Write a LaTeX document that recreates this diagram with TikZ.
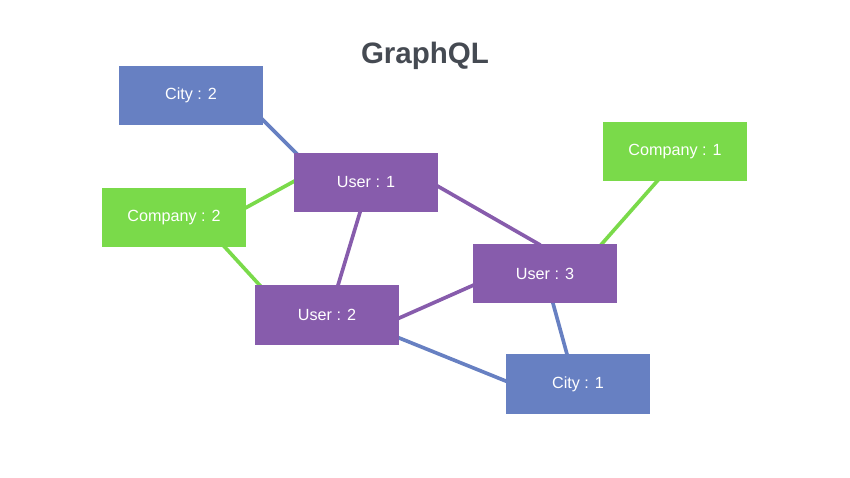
\documentclass[tikz,border=0pt]{standalone}
\usepackage{fontspec}
\setmainfont{Liberation Sans}
\usepackage{tikz}
\usetikzlibrary{calc,backgrounds}
\usepackage{xcolor}
\definecolor{cityblue}{RGB}{103,128,194}
\definecolor{userpurple}{RGB}{135,92,172}
\definecolor{compgreen}{RGB}{122,218,74}
\definecolor{titlegray}{RGB}{69,74,82}

\begin{document}
\begin{tikzpicture}[x=0.025cm,y=-0.025cm,font=\fontsize{11.5}{13}\selectfont]
\tikzset{
  CT/.style={fill=cityblue,draw=none,rectangle,minimum width=3.6cm,minimum height=1.475cm,text=white,inner sep=0pt},
  US/.style={fill=userpurple,draw=none,rectangle,minimum width=3.6cm,minimum height=1.475cm,text=white,inner sep=0pt},
  CP/.style={fill=compgreen,draw=none,rectangle,minimum width=3.6cm,minimum height=1.475cm,text=white,inner sep=0pt},
  BL/.style={line width=2.6pt,cityblue,shorten <=-2pt,shorten >=-2pt},
  PL/.style={line width=2.6pt,userpurple,shorten <=-2pt,shorten >=-2pt},
  GL/.style={line width=2.6pt,compgreen,shorten <=-2pt,shorten >=-2pt},
}
\useasboundingbox (0,0) rectangle (850,478);

\node[font=\fontsize{21}{25}\selectfont\bfseries,text=titlegray](title) at (425,56){GraphQL};

\node[CT](city2)    at (191,95.5){City : 2};
\node[US](user1)    at (366,182.5){User : 1};
\node[CP](company2) at (174,217.5){Company : 2};
\node[CP](company1) at (675,151.5){Company : 1};
\node[US](user3)    at (545,273.5){User : 3};
\node[US](user2)    at (327,315){User : 2};
\node[CT](city1)    at (578,384){City : 1};

\begin{pgfonlayer}{background}
\draw[BL]($(city2.south east)+(0,-5)$)--($(user1.north west)+(2,0)$);
\draw[GL]($(company2.east)+(0,-10)$)--($(user1.west)+(0,-1)$);
\draw[GL]($(company2.south)+(51,0)$)--($(user2.north west)+(5,0)$);
\draw[PL]($(user1.south)+(-6,0)$)--($(user2.north)+(11,0)$);
\draw[PL]($(user1.east)+(0,4)$)--($(user3.north)+(-7,0)$);
\draw[GL]($(company1.south)+(-18,0)$)--($(user3.north)+(57,0)$);
\draw[PL]($(user2.east)+(0,3)$)--($(user3.west)+(0,12)$);
\draw[BL]($(user2.east)+(0,23)$)--($(city1.west)+(0,-3)$);
\draw[BL]($(user3.south)+(8,0)$)--($(city1.north)+(-11,0)$);
\end{pgfonlayer}

\end{tikzpicture}
\end{document}
